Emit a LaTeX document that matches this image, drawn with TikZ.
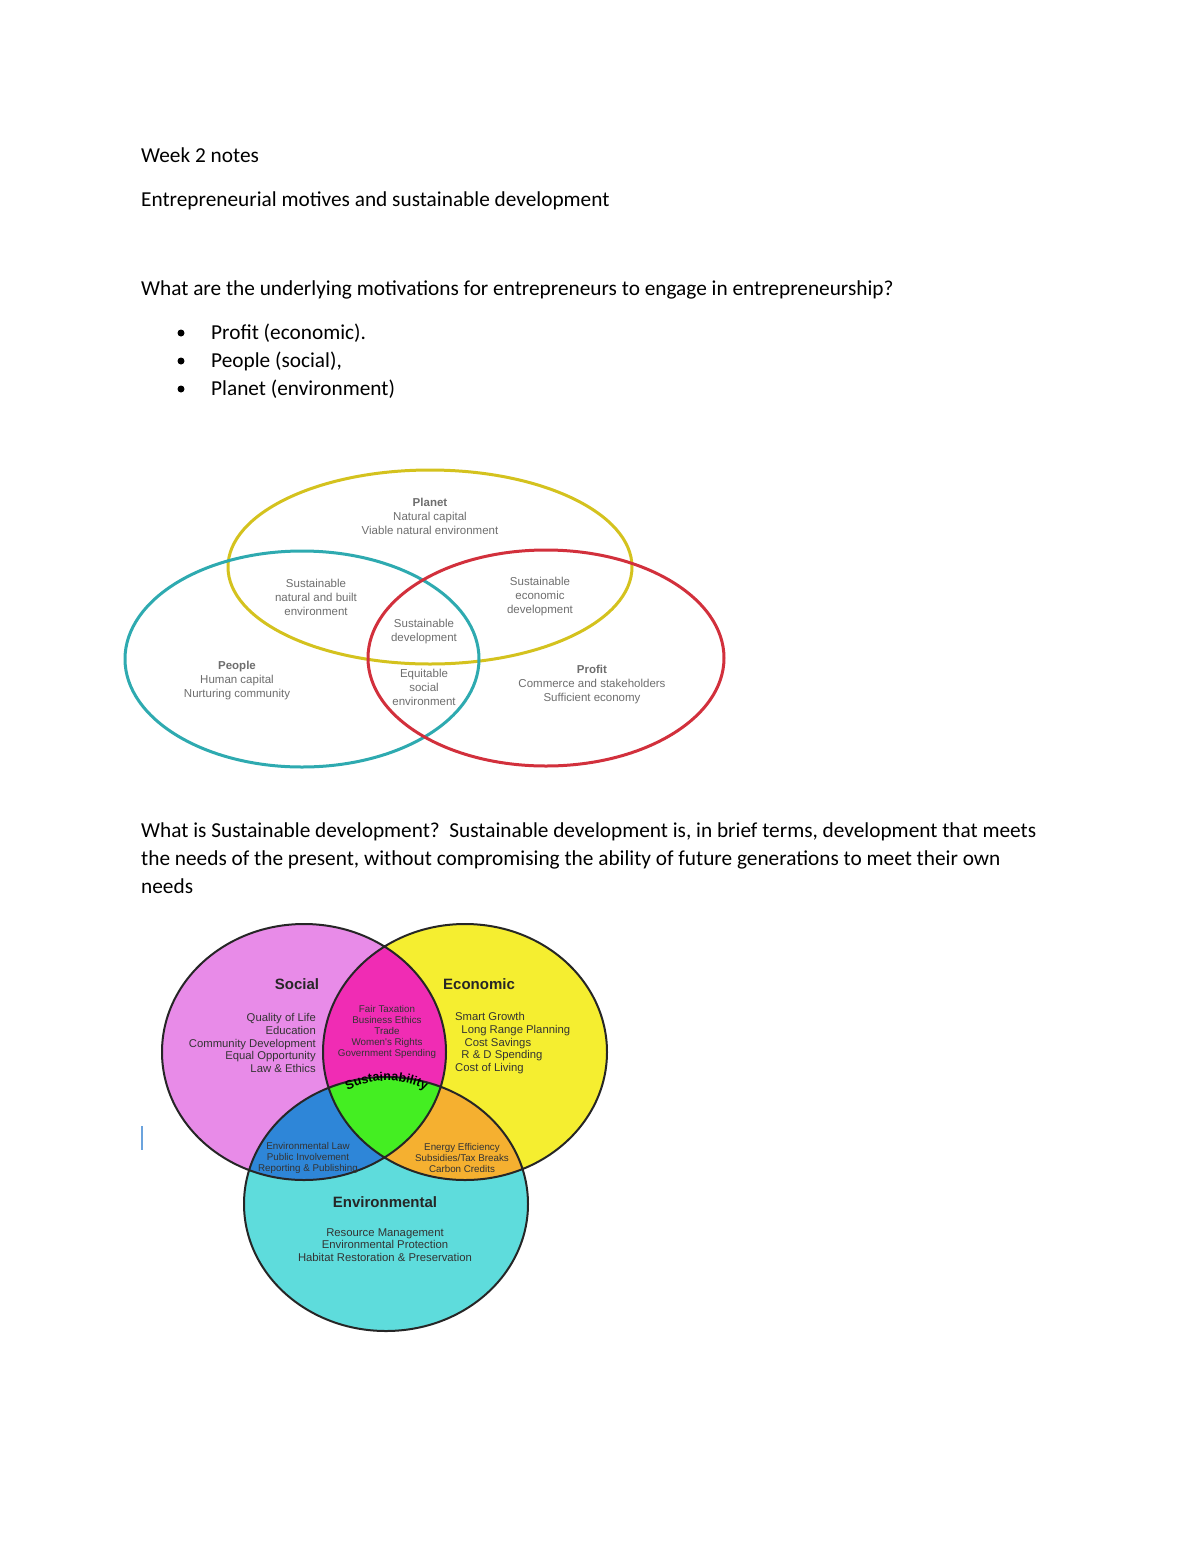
\documentclass[tikz,border=0pt]{standalone}
\usepackage{fontspec}
\setmainfont{Carlito}
\newfontfamily\arial{Liberation Sans}
\usetikzlibrary{decorations.text}
\definecolor{cyel}{HTML}{D4C21E}
\definecolor{cteal}{HTML}{2EAAB0}
\definecolor{cred}{HTML}{D2303C}
\definecolor{gtxt}{HTML}{6E6E6E}
\definecolor{csoc}{HTML}{E88BE8}
\definecolor{ceco}{HTML}{F5EE30}
\definecolor{cenv}{HTML}{5EDCDC}
\definecolor{cse}{HTML}{F02CB4}
\definecolor{csv}{HTML}{2E86D8}
\definecolor{cev}{HTML}{F5B030}
\definecolor{call}{HTML}{44EE22}
\begin{document}
\begin{tikzpicture}[x=1pt,y=-1pt,
  body/.style={anchor=base west,font=\fontsize{21.3}{21.3}\selectfont,inner sep=0},
  vone/.style={align=center,font=\arial\fontsize{11.5}{14}\selectfont,text=gtxt,inner sep=0},
  vtwo/.style={align=center,font=\arial\fontsize{11.3}{12.8}\selectfont,text=black!80,inner sep=0},
  vsm/.style={vtwo,font=\arial\fontsize{9.8}{10.8}\selectfont},
  head/.style={font=\arial\bfseries\fontsize{15}{15}\selectfont,text=black!85,inner sep=0}]
\useasboundingbox (0,0) rectangle (1200,1553);
\fill[white] (0,0) rectangle (1200,1553);
% text
\node[body] (t1) at (141,162) {Week 2 notes};
\node[body] (t2) at (141,206) {Entrepreneurial motives and sustainable development};
\node[body] (t3) at (141,295) {What are the underlying motivations for entrepreneurs to engage in entrepreneurship?};
\foreach \y/\t [count=\i] in {339/Profit (economic).,367/{People (social),},395/Planet (environment)}{
  \fill (181,\y-6) circle (3.5);
  \node[body] (b\i) at (211,\y) {\t};
}
\node[body] (p1) at (141,837) {What is Sustainable development?\ \ Sustainable development is, in brief terms, development that meets};
\node[body] (p2) at (141,865) {the needs of the present, without compromising the ability of future generations to meet their own};
\node[body] (p3) at (141,893) {needs};
% Venn 1
\draw[cyel,line width=3pt] (430,567) ellipse (202 and 97);
\draw[cteal,line width=3pt] (302,659) ellipse (177 and 108);
\draw[cred,line width=3pt] (546,658) ellipse (178 and 108);
\node[vone] (pl) at (430,516) {\textbf{Planet}\\Natural capital\\Viable natural environment};
\node[vone] (snb) at (316,597) {Sustainable\\natural and built\\environment};
\node[vone] (sed) at (540,597) {Sustainable\\economic\\development};
\node[vone] (sd) at (424,632) {Sustainable\\development};
\node[vone] (pe) at (237,681) {\textbf{People}\\Human capital\\Nurturing community};
\node[vone] (es) at (424,687) {Equitable\\social\\environment};
\node[vone] (pr) at (592,685) {\textbf{Profit}\\Commerce and stakeholders\\Sufficient economy};
% Venn 2
\def\S{(304,1052) ellipse (142 and 128)}
\def\E{(465,1052) ellipse (142 and 128)}
\def\V{(386,1204) ellipse (142 and 127)}
\fill[csoc] \S; \fill[ceco] \E; \fill[cenv] \V;
\begin{scope}\clip \S; \fill[cse] \E; \fill[csv] \V; \end{scope}
\begin{scope}\clip \E; \fill[cev] \V; \end{scope}
\begin{scope}\clip \S; \clip \E; \fill[call] \V; \end{scope}
\draw[line width=2pt,black!85] \S \E \V;
\node[head] (so) at (297,984) {Social};
\node[head] (ec) at (479,984) {Economic};
\node[head] (en) at (385,1202) {Environmental};
\node[vtwo,align=right,anchor=north east] (soi) at (316,1013) {Quality of Life\\Education\\Community Development\\Equal Opportunity\\Law \& Ethics};
\node[vtwo,align=left,anchor=north west] (eci) at (455,1012) {Smart Growth\\\ \ Long Range Planning\\\ \ \ Cost Savings\\\ \ R \& D Spending\\Cost of Living};
\node[vsm] (sei) at (387,1032) {Fair Taxation\\Business Ethics\\Trade\\Women's Rights\\Government Spending};
\node[vsm] (svi) at (308,1158) {Environmental Law\\Public Involvement\\Reporting \& Publishing};
\node[vsm] (evi) at (462,1158) {Energy Efficiency\\Subsidies/Tax Breaks\\Carbon Credits};
\node[vtwo] (evii) at (385,1245) {Resource Management\\Environmental Protection\\Habitat Restoration \& Preservation};
\path[decorate,decoration={text along path,text align=center,
  text={|\arial\bfseries\fontsize{12.5}{12.5}\selectfont|Sustainability}}]
  (333,1098) .. controls (370,1075) and (405,1075) .. (440,1098);
\draw[cyan!60!blue!60,line width=1.5pt] (142,1126) -- (142,1150);
\end{tikzpicture}
\end{document}
